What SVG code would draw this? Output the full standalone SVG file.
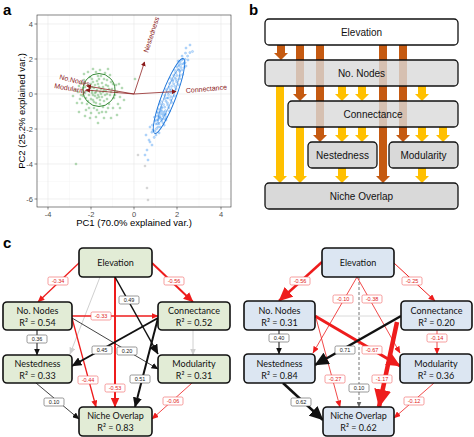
<svg xmlns="http://www.w3.org/2000/svg" width="474" height="437" viewBox="0 0 474 437">
<style>
.pl{font-family:"Liberation Sans",Arial,sans-serif;font-weight:bold;font-size:15px;fill:#000}
.tk{font-family:"Liberation Sans",Arial,sans-serif;font-size:7.5px;fill:#4d4d4d}
.at{font-family:"Liberation Sans",Arial,sans-serif;font-size:9.5px;fill:#000}
.vl{font-family:"Liberation Sans",Arial,sans-serif;font-size:7px;fill:#8b1a1a}
.gmaj{stroke:#e6e6e6;stroke-width:0.6}
.gmin{stroke:#f3f3f3;stroke-width:0.4}
.g{fill:#4caf50;fill-opacity:0.35;stroke:#2e8b2e;stroke-opacity:0.45;stroke-width:0.4}
.b{fill:#4da3ff;fill-opacity:0.35;stroke:#1e7fe0;stroke-opacity:0.5;stroke-width:0.4}
.gy{fill:#aaa;fill-opacity:0.4;stroke:#888;stroke-opacity:0.4;stroke-width:0.4}
.bbox{stroke:#111;stroke-width:1.3}
.bt{font-family:"Liberation Sans",Arial,sans-serif;font-size:10px;fill:#111;text-anchor:middle}
.br{fill:#c55a11}
.ye{fill:#ffc000}
.cg{fill:#e2ecd6;stroke:#111;stroke-width:1.6}
.cb{fill:#dce6f2;stroke:#111;stroke-width:1.6}
.ct{font-family:Lato,"Liberation Sans",sans-serif;font-size:9px;fill:#111;text-anchor:middle}
.er{stroke:#ee1c1c;fill:none}
.ek{stroke:#111;fill:none}
.eg{stroke:#d0d0d0;fill:none}
.lr rect{fill:#fff;stroke:#f06060;stroke-width:0.6}
.lr text{fill:#e02020}
.lk rect{fill:#fff;stroke:#555;stroke-width:0.6}
.lk text{fill:#222}
.lab text{font-family:"Liberation Sans",Arial,sans-serif;font-size:5.5px;text-anchor:middle}
</style>
<defs>
<marker id="pa" markerUnits="userSpaceOnUse" markerWidth="5" markerHeight="5" refX="4" refY="2.5" orient="auto"><path d="M0,0 L4.5,2.5 L0,5 z" fill="#8b1a1a"/></marker>
<marker id="mR1" markerUnits="userSpaceOnUse" markerWidth="7" markerHeight="6" refX="6.5" refY="3" orient="auto"><path d="M0,0 L7,3 L0,6 z" fill="#ee1c1c"/></marker>
<marker id="mR2" markerUnits="userSpaceOnUse" markerWidth="10" markerHeight="9" refX="9.5" refY="4.5" orient="auto"><path d="M0,0 L10,4.5 L0,9 z" fill="#ee1c1c"/></marker>
<marker id="mR3" markerUnits="userSpaceOnUse" markerWidth="14" markerHeight="13" refX="13.5" refY="6.5" orient="auto"><path d="M0,0 L14,6.5 L0,13 z" fill="#ee1c1c"/></marker>
<marker id="mR4" markerUnits="userSpaceOnUse" markerWidth="18" markerHeight="17" refX="17.5" refY="8.5" orient="auto"><path d="M0,0 L18,8.5 L0,17 z" fill="#ee1c1c"/></marker>
<marker id="mK1" markerUnits="userSpaceOnUse" markerWidth="7" markerHeight="6" refX="6.5" refY="3" orient="auto"><path d="M0,0 L7,3 L0,6 z" fill="#111"/></marker>
<marker id="mK2" markerUnits="userSpaceOnUse" markerWidth="10" markerHeight="9" refX="9.5" refY="4.5" orient="auto"><path d="M0,0 L10,4.5 L0,9 z" fill="#111"/></marker>
<marker id="mK3" markerUnits="userSpaceOnUse" markerWidth="14" markerHeight="13" refX="13.5" refY="6.5" orient="auto"><path d="M0,0 L14,6.5 L0,13 z" fill="#111"/></marker>
<marker id="mG" markerUnits="userSpaceOnUse" markerWidth="7" markerHeight="6" refX="6.5" refY="3" orient="auto"><path d="M0,0 L7,3 L0,6 z" fill="#d0d0d0"/></marker>
<marker id="mD" markerUnits="userSpaceOnUse" markerWidth="6" markerHeight="5" refX="5.5" refY="2.5" orient="auto"><path d="M0,0 L6,2.5 L0,5 z" fill="#666"/></marker>
</defs>
<rect width="474" height="437" fill="#fff"/>

<!-- Panel a -->
<g id="panel-a">
<text class="pl" x="3" y="15">a</text>
<g>
<line class="gmin" x1="37" y1="41.5" x2="231" y2="41.5"/><line class="gmin" x1="37" y1="76.5" x2="231" y2="76.5"/><line class="gmin" x1="37" y1="111.5" x2="231" y2="111.5"/><line class="gmin" x1="37" y1="146.5" x2="231" y2="146.5"/><line class="gmin" x1="37" y1="181.5" x2="231" y2="181.5"/>
<line class="gmin" x1="69.5" y1="15" x2="69.5" y2="207"/><line class="gmin" x1="112.5" y1="15" x2="112.5" y2="207"/><line class="gmin" x1="155.5" y1="15" x2="155.5" y2="207"/><line class="gmin" x1="199" y1="15" x2="199" y2="207"/>
<line class="gmaj" x1="37" y1="24" x2="231" y2="24"/><line class="gmaj" x1="37" y1="59" x2="231" y2="59"/><line class="gmaj" x1="37" y1="94" x2="231" y2="94"/><line class="gmaj" x1="37" y1="129" x2="231" y2="129"/><line class="gmaj" x1="37" y1="164" x2="231" y2="164"/><line class="gmaj" x1="37" y1="199" x2="231" y2="199"/>
<line class="gmaj" x1="48" y1="15" x2="48" y2="207"/><line class="gmaj" x1="91" y1="15" x2="91" y2="207"/><line class="gmaj" x1="134" y1="15" x2="134" y2="207"/><line class="gmaj" x1="177" y1="15" x2="177" y2="207"/><line class="gmaj" x1="221" y1="15" x2="221" y2="207"/>
</g>
<g>
<circle class="g" cx="97" cy="90" r="1.1"/><circle class="g" cx="94" cy="88" r="1.1"/><circle class="g" cx="100" cy="92" r="1.1"/><circle class="g" cx="92" cy="93" r="1.1"/><circle class="g" cx="103" cy="87" r="1.1"/><circle class="g" cx="89" cy="90" r="1.1"/><circle class="g" cx="98" cy="84" r="1.1"/><circle class="g" cx="95" cy="96" r="1.1"/><circle class="g" cx="102" cy="97" r="1.1"/><circle class="g" cx="88" cy="85" r="1.1"/><circle class="g" cx="106" cy="91" r="1.1"/><circle class="g" cx="91" cy="99" r="1.1"/><circle class="g" cx="99" cy="79" r="1.1"/><circle class="g" cx="85" cy="93" r="1.1"/><circle class="g" cx="108" cy="86" r="1.1"/><circle class="g" cx="93" cy="82" r="1.1"/><circle class="g" cx="104" cy="101" r="1.1"/><circle class="g" cx="86" cy="98" r="1.1"/><circle class="g" cx="110" cy="95" r="1.1"/><circle class="g" cx="96" cy="103" r="1.1"/><circle class="g" cx="83" cy="88" r="1.1"/><circle class="g" cx="101" cy="76" r="1.1"/><circle class="g" cx="90" cy="77" r="1.1"/><circle class="g" cx="107" cy="80" r="1.1"/><circle class="g" cx="112" cy="89" r="1.1"/><circle class="g" cx="81" cy="95" r="1.1"/><circle class="g" cx="94" cy="108" r="1.1"/><circle class="g" cx="103" cy="107" r="1.1"/><circle class="g" cx="87" cy="104" r="1.1"/><circle class="g" cx="114" cy="98" r="1.1"/><circle class="g" cx="79" cy="86" r="1.1"/><circle class="g" cx="99" cy="113" r="1.1"/><circle class="g" cx="91" cy="113" r="1.1"/><circle class="g" cx="109" cy="104" r="1.1"/><circle class="g" cx="84" cy="80" r="1.1"/><circle class="g" cx="116" cy="85" r="1.1"/><circle class="g" cx="96" cy="72" r="1.1"/><circle class="g" cx="105" cy="73" r="1.1"/><circle class="g" cx="88" cy="72" r="1.1"/><circle class="g" cx="117" cy="92" r="1.1"/><circle class="g" cx="82" cy="103" r="1.1"/><circle class="g" cx="100" cy="100" r="1.1"/><circle class="g" cx="95" cy="93" r="1.1"/><circle class="g" cx="98" cy="95" r="1.1"/><circle class="g" cx="92" cy="87" r="1.1"/><circle class="g" cx="105" cy="95" r="1.1"/><circle class="g" cx="89" cy="95" r="1.1"/><circle class="g" cx="101" cy="89" r="1.1"/><circle class="g" cx="97" cy="98" r="1.1"/><circle class="g" cx="93" cy="100" r="1.1"/><circle class="g" cx="106" cy="85" r="1.1"/><circle class="g" cx="111" cy="82" r="1.1"/><circle class="g" cx="78" cy="92" r="1.1"/><circle class="g" cx="120" cy="97" r="1.1"/><circle class="g" cx="86" cy="110" r="1.1"/><circle class="g" cx="106" cy="112" r="1.1"/><circle class="g" cx="113" cy="108" r="1.1"/><circle class="g" cx="96" cy="117" r="1.1"/><circle class="g" cx="80" cy="99" r="1.1"/><circle class="g" cx="118" cy="104" r="1.1"/><circle class="g" cx="104" cy="118" r="1.1"/><circle class="g" cx="90" cy="118" r="1.1"/><circle class="g" cx="75" cy="90" r="1.1"/><circle class="g" cx="122" cy="88" r="1.1"/><circle class="g" cx="110" cy="75" r="1.1"/><circle class="g" cx="84" cy="74" r="1.1"/><circle class="g" cx="100" cy="70" r="1.1"/><circle class="g" cx="117" cy="115" r="1.1"/><circle class="g" cx="79" cy="112" r="1.1"/><circle class="g" cx="76" cy="164" r="1.1"/><circle class="g" cx="135" cy="79" r="1.1"/><circle class="g" cx="92" cy="91" r="1.1"/><circle class="g" cx="99" cy="87" r="1.1"/><circle class="g" cx="103" cy="92" r="1.1"/>
<circle class="g" cx="95" cy="85" r="1.1"/><circle class="g" cx="101" cy="94" r="1.1"/><circle class="g" cx="90" cy="88" r="1.1"/><circle class="g" cx="104" cy="90" r="1.1"/><circle class="g" cx="96" cy="92" r="1.1"/><circle class="g" cx="99" cy="97" r="1.1"/><circle class="g" cx="93" cy="95" r="1.1"/><circle class="g" cx="107" cy="94" r="1.1"/><circle class="g" cx="87" cy="91" r="1.1"/><circle class="g" cx="102" cy="83" r="1.1"/><circle class="g" cx="91" cy="84" r="1.1"/><circle class="g" cx="97" cy="81" r="1.1"/><circle class="g" cx="109" cy="89" r="1.1"/><circle class="g" cx="85" cy="87" r="1.1"/><circle class="g" cx="100" cy="104" r="1.1"/><circle class="g" cx="94" cy="102" r="1.1"/><circle class="g" cx="88" cy="101" r="1.1"/><circle class="g" cx="107" cy="99" r="1.1"/><circle class="g" cx="111" cy="92" r="1.1"/><circle class="g" cx="83" cy="96" r="1.1"/><circle class="g" cx="98" cy="76" r="1.1"/><circle class="g" cx="104" cy="79" r="1.1"/><circle class="g" cx="92" cy="79" r="1.1"/><circle class="g" cx="113" cy="84" r="1.1"/><circle class="g" cx="115" cy="95" r="1.1"/><circle class="g" cx="108" cy="108" r="1.1"/><circle class="g" cx="89" cy="108" r="1.1"/><circle class="g" cx="97" cy="110" r="1.1"/><circle class="g" cx="102" cy="112" r="1.1"/><circle class="g" cx="81" cy="83" r="1.1"/><circle class="g" cx="119" cy="84" r="1.1"/><circle class="g" cx="120" cy="108" r="1.1"/><circle class="g" cx="77" cy="103" r="1.1"/><circle class="g" cx="85" cy="116" r="1.1"/><circle class="g" cx="111" cy="118" r="1.1"/><circle class="g" cx="93" cy="69" r="1.1"/><circle class="g" cx="108" cy="69" r="1.1"/><circle class="g" cx="124" cy="100" r="1.1"/><circle class="g" cx="73" cy="96" r="1.1"/><circle class="g" cx="98" cy="123" r="1.1"/>
</g>
<g>
<circle class="b" cx="154.2" cy="137.4" r="1.1"/><circle class="b" cx="151.9" cy="132.2" r="1.1"/><circle class="b" cx="159.1" cy="132.9" r="1.1"/><circle class="b" cx="156.5" cy="128.7" r="1.1"/><circle class="b" cx="152.5" cy="125" r="1.1"/><circle class="b" cx="160.3" cy="127" r="1.1"/><circle class="b" cx="157.4" cy="123.6" r="1.1"/><circle class="b" cx="164.2" cy="125.2" r="1.1"/><circle class="b" cx="156.5" cy="120.1" r="1.1"/><circle class="b" cx="161.6" cy="121" r="1.1"/><circle class="b" cx="154.5" cy="117.2" r="1.1"/><circle class="b" cx="160.4" cy="118.4" r="1.1"/><circle class="b" cx="164.5" cy="118.9" r="1.1"/><circle class="b" cx="159.2" cy="115.8" r="1.1"/><circle class="b" cx="166.2" cy="117.4" r="1.1"/><circle class="b" cx="158.1" cy="113.3" r="1.1"/><circle class="b" cx="163.1" cy="114.1" r="1.1"/><circle class="b" cx="165.4" cy="113.9" r="1.1"/><circle class="b" cx="162" cy="111.5" r="1.1"/><circle class="b" cx="158.6" cy="109.1" r="1.1"/><circle class="b" cx="165.5" cy="110.7" r="1.1"/><circle class="b" cx="169.6" cy="111.2" r="1.1"/><circle class="b" cx="161.5" cy="107" r="1.1"/><circle class="b" cx="164.7" cy="107.2" r="1.1"/><circle class="b" cx="168.8" cy="107.7" r="1.1"/><circle class="b" cx="163.5" cy="104.6" r="1.1"/><circle class="b" cx="167.7" cy="105.1" r="1.1"/><circle class="b" cx="160.5" cy="101.4" r="1.1"/><circle class="b" cx="167.4" cy="102.9" r="1.1"/><circle class="b" cx="166" cy="101.2" r="1.1"/><circle class="b" cx="171.9" cy="102.5" r="1.1"/><circle class="b" cx="164.8" cy="98.6" r="1.1"/><circle class="b" cx="170.7" cy="99.9" r="1.1"/><circle class="b" cx="168.3" cy="97.9" r="1.1"/><circle class="b" cx="164.9" cy="95.5" r="1.1"/><circle class="b" cx="170.9" cy="96.7" r="1.1"/><circle class="b" cx="168.5" cy="94.7" r="1.1"/><circle class="b" cx="174.4" cy="95.9" r="1.1"/><circle class="b" cx="168.2" cy="92.5" r="1.1"/><circle class="b" cx="171.3" cy="92.7" r="1.1"/><circle class="b" cx="166.1" cy="89.5" r="1.1"/><circle class="b" cx="173.9" cy="91.5" r="1.1"/><circle class="b" cx="171.5" cy="89.5" r="1.1"/><circle class="b" cx="169.1" cy="87.4" r="1.1"/><circle class="b" cx="175.9" cy="89" r="1.1"/><circle class="b" cx="171.7" cy="86.3" r="1.1"/><circle class="b" cx="174.8" cy="86.4" r="1.1"/><circle class="b" cx="169.6" cy="83.4" r="1.1"/><circle class="b" cx="173.7" cy="83.9" r="1.1"/><circle class="b" cx="178.7" cy="84.7" r="1.1"/><circle class="b" cx="172.5" cy="81.3" r="1.1"/><circle class="b" cx="176.6" cy="81.8" r="1.1"/><circle class="b" cx="170.4" cy="78.3" r="1.1"/><circle class="b" cx="176.3" cy="79.6" r="1.1"/><circle class="b" cx="174.9" cy="77.9" r="1.1"/><circle class="b" cx="179.9" cy="78.7" r="1.1"/><circle class="b" cx="173.7" cy="75.3" r="1.1"/><circle class="b" cx="176.9" cy="75.5" r="1.1"/><circle class="b" cx="180" cy="75.6" r="1.1"/><circle class="b" cx="175.7" cy="72.9" r="1.1"/><circle class="b" cx="182.7" cy="74.5" r="1.1"/><circle class="b" cx="174.6" cy="70.3" r="1.1"/><circle class="b" cx="179.6" cy="71.2" r="1.1"/><circle class="b" cx="178.1" cy="69.5" r="1.1"/><circle class="b" cx="182.2" cy="70" r="1.1"/><circle class="b" cx="176.9" cy="66.9" r="1.1"/><circle class="b" cx="181" cy="67.5" r="1.1"/><circle class="b" cx="184.2" cy="67.5" r="1.1"/><circle class="b" cx="178.9" cy="64.5" r="1.1"/><circle class="b" cx="181.2" cy="64.3" r="1.1"/><circle class="b" cx="183.4" cy="64" r="1.1"/><circle class="b" cx="178.2" cy="61" r="1.1"/><circle class="b" cx="185" cy="62.6" r="1.1"/><circle class="b" cx="181.7" cy="60.1" r="1.1"/><circle class="b" cx="185.2" cy="59.4" r="1.1"/><circle class="b" cx="182.1" cy="56.1" r="1.1"/><circle class="b" cx="187.6" cy="56.1" r="1.1"/><circle class="b" cx="185.5" cy="53.1" r="1.1"/><circle class="b" cx="189.9" cy="52.6" r="1.1"/><circle class="b" cx="192.5" cy="51.5" r="1.1"/>
<circle class="b" cx="160" cy="117" r="1.1"/><circle class="b" cx="162" cy="119" r="1.1"/><circle class="b" cx="158" cy="120" r="1.1"/><circle class="b" cx="163" cy="116" r="1.1"/><circle class="b" cx="157" cy="112" r="1.1"/><circle class="b" cx="161" cy="110" r="1.1"/><circle class="b" cx="165" cy="115" r="1.1"/><circle class="b" cx="159" cy="124" r="1.1"/><circle class="b" cx="163" cy="123" r="1.1"/><circle class="b" cx="155" cy="121" r="1.1"/><circle class="b" cx="166" cy="120" r="1.1"/><circle class="b" cx="160" cy="104" r="1.1"/><circle class="b" cx="153" cy="130" r="1.1"/><circle class="b" cx="150" cy="127" r="1.1"/><circle class="b" cx="156" cy="135" r="1.1"/><circle class="b" cx="149" cy="140" r="1.1"/><circle class="b" cx="152" cy="145" r="1.1"/><circle class="b" cx="147" cy="150" r="1.1"/><circle class="b" cx="145" cy="155" r="1.1"/><circle class="b" cx="148" cy="160" r="1.1"/><circle class="b" cx="150" cy="142" r="1.1"/><circle class="b" cx="146" cy="135" r="1.1"/><circle class="b" cx="186" cy="48" r="1.1"/><circle class="b" cx="190" cy="45" r="1.1"/>
<circle class="b" cx="159" cy="118" r="1.1"/><circle class="b" cx="161" cy="114" r="1.1"/><circle class="b" cx="157" cy="116" r="1.1"/><circle class="b" cx="162" cy="108" r="1.1"/><circle class="b" cx="156" cy="124" r="1.1"/><circle class="b" cx="160" cy="112" r="1.1"/><circle class="b" cx="164" cy="112" r="1.1"/><circle class="b" cx="158" cy="127" r="1.1"/><circle class="b" cx="155" cy="131" r="1.1"/><circle class="b" cx="167" cy="98" r="1.1"/><circle class="b" cx="170" cy="90" r="1.1"/><circle class="b" cx="173" cy="80" r="1.1"/><circle class="b" cx="179" cy="66" r="1.1"/><circle class="b" cx="183" cy="59" r="1.1"/><circle class="b" cx="184" cy="63" r="1.1"/><circle class="b" cx="180" cy="62" r="1.1"/><circle class="b" cx="188" cy="60" r="1.1"/><circle class="b" cx="186" cy="66" r="1.1"/>
<circle class="gy" cx="138" cy="155" r="1.1"/><circle class="gy" cx="147" cy="188" r="1.1"/><circle class="gy" cx="148" cy="200" r="1.1"/><circle class="gy" cx="145" cy="166" r="1.1"/>
</g>
<ellipse cx="99" cy="90" rx="16" ry="16.5" fill="none" stroke="#1e7a1e" stroke-width="0.9"/>
<ellipse cx="169" cy="96" rx="40" ry="7" transform="rotate(-69 169 96)" fill="none" stroke="#1a73d9" stroke-width="0.9"/>
<ellipse cx="169" cy="96" rx="29" ry="4" transform="rotate(-69 169 96)" fill="none" stroke="#1a73d9" stroke-width="0.5"/>
<g stroke="#8b1a1a" stroke-width="0.9" fill="none" stroke-opacity="0.85">
<line x1="134" y1="94" x2="144.5" y2="62" marker-end="url(#pa)"/>
<line x1="134" y1="94" x2="176" y2="91.5" marker-end="url(#pa)"/>
<line x1="134" y1="94" x2="87" y2="86" marker-end="url(#pa)"/>
<line x1="134" y1="94" x2="86" y2="90" marker-end="url(#pa)"/>
</g>
<text class="vl" transform="translate(148,53) rotate(-72)">Nestedness</text>
<text class="vl" transform="translate(186,93) rotate(-5)">Connectance</text>
<text class="vl" font-size="6.5" transform="translate(59,79) rotate(14)">No.Nodes</text>
<text class="vl" font-size="6.5" transform="translate(54,88) rotate(10)">Modularity</text>
<rect x="37" y="15" width="194" height="192" fill="none" stroke="#333" stroke-width="0.6"/>
<g stroke="#333" stroke-width="0.6">
<line x1="34.5" y1="24" x2="37" y2="24"/><line x1="34.5" y1="59" x2="37" y2="59"/><line x1="34.5" y1="94" x2="37" y2="94"/><line x1="34.5" y1="129" x2="37" y2="129"/><line x1="34.5" y1="164" x2="37" y2="164"/><line x1="34.5" y1="199" x2="37" y2="199"/>
<line x1="48" y1="207" x2="48" y2="209.5"/><line x1="91" y1="207" x2="91" y2="209.5"/><line x1="134" y1="207" x2="134" y2="209.5"/><line x1="177" y1="207" x2="177" y2="209.5"/><line x1="221" y1="207" x2="221" y2="209.5"/>
</g>
<g class="tk" text-anchor="end">
<text x="33" y="26.7">4</text><text x="33" y="61.7">2</text><text x="33" y="96.7">0</text><text x="33" y="131.7">-2</text><text x="33" y="166.7">-4</text><text x="33" y="201.7">-6</text>
</g>
<g class="tk" text-anchor="middle">
<text x="48" y="216.5">-4</text><text x="91" y="216.5">-2</text><text x="134" y="216.5">0</text><text x="177" y="216.5">2</text><text x="221" y="216.5">4</text>
</g>
<text class="at" x="134" y="226" text-anchor="middle">PC1 (70.0% explained var.)</text>
<text class="at" transform="translate(25,111) rotate(-90)" text-anchor="middle">PC2 (25.2% explained var.)</text>
</g>

<!-- Panel b -->
<g id="panel-b">
<text class="pl" x="249" y="15">b</text>
<g id="b-arrows">
<polygon class="br" points="277,45 285,45 285,53 288,53 281,60 274,53 277,53"/>
<polygon class="br" points="296,45 304,45 304,94 307,94 300,101 293,94 296,94"/>
<polygon class="br" points="316,45 324,45 324,135 327,135 320,142 313,135 316,135"/>
<polygon class="br" points="379,45 387,45 387,176 390,176 383,183 376,176 379,176"/>
<polygon class="br" points="399,45 407,45 407,135 410,135 403,142 396,135 399,135"/>
<polygon class="ye" points="276,86 284,86 284,176 287,176 280,183 273,176 276,176"/>
<polygon class="ye" points="296,127 304,127 304,176 307,176 300,183 293,176 296,176"/>
<polygon class="ye" points="338,86 346,86 346,94 349,94 342,101 335,94 338,94"/>
<polygon class="ye" points="358,86 366,86 366,94 369,94 362,101 355,94 358,94"/>
<polygon class="ye" points="418,86 426,86 426,94 429,94 422,101 415,94 418,94"/>
<polygon class="ye" points="338,127 346,127 346,135 349,135 342,142 335,135 338,135"/>
<polygon class="ye" points="358,127 366,127 366,135 369,135 362,142 355,135 358,135"/>
<polygon class="ye" points="418,127 426,127 426,135 429,135 422,142 415,135 418,135"/>
<polygon class="ye" points="439,127 447,127 447,135 450,135 443,142 436,135 439,135"/>
<polygon class="ye" points="338,168 346,168 346,176 349,176 342,183 335,176 338,176"/>
<polygon class="ye" points="418,168 426,168 426,176 429,176 422,183 415,176 418,176"/>
</g>
<g id="b-elevation"><rect class="bbox" x="265" y="19" width="193" height="26" rx="4" fill="#fff"/><text class="bt" x="361.5" y="35.5">Elevation</text></g>
<g id="b-nodes"><rect class="bbox" x="265" y="60" width="193" height="26" rx="4" fill="#d9d9d9" fill-opacity="0.8"/><text class="bt" x="361.5" y="76.5">No. Nodes</text></g>
<g id="b-connectance"><rect class="bbox" x="288" y="101" width="170" height="26" rx="4" fill="#d9d9d9" fill-opacity="0.8"/><text class="bt" x="373" y="117.5">Connectance</text></g>
<g id="b-nestedness"><rect class="bbox" x="308" y="142" width="69" height="26" rx="4" fill="#d9d9d9"/><text class="bt" x="342.5" y="158.5">Nestedness</text></g>
<g id="b-modularity"><rect class="bbox" x="389" y="142" width="69" height="26" rx="4" fill="#d9d9d9"/><text class="bt" x="423.5" y="158.5">Modularity</text></g>
<g id="b-niche"><rect class="bbox" x="265" y="183" width="193" height="26" rx="4" fill="#d9d9d9"/><text class="bt" x="361.5" y="199.5">Niche Overlap</text></g>
</g>

<!-- Panel c -->
<text class="pl" x="3" y="248">c</text>
<g id="connectors">
<line class="eg" x1="100" y1="277" x2="70" y2="354" stroke-width="1" marker-end="url(#mG)"/>
<line class="eg" x1="193" y1="330" x2="193" y2="355" stroke-width="1" marker-end="url(#mG)"/>
<line class="er" x1="80" y1="262" x2="38" y2="302" stroke-width="1.3" marker-end="url(#mR1)"/>
<line class="er" x1="152" y1="263" x2="193" y2="302" stroke-width="2" marker-end="url(#mR2)"/>
<line class="er" x1="72" y1="316" x2="158" y2="316" stroke-width="1.3" marker-end="url(#mR1)"/>
<line class="er" x1="115" y1="277" x2="115" y2="407" stroke-width="2" marker-end="url(#mR2)"/>
<line class="er" x1="72" y1="318" x2="96" y2="407" stroke-width="1.3" marker-end="url(#mR1)"/>
<line class="ek" x1="115" y1="277" x2="158" y2="354" stroke-width="1.5" marker-end="url(#mK2)"/>
<line class="ek" x1="158" y1="318" x2="72" y2="366" stroke-width="2" marker-end="url(#mK2)"/>
<line class="ek" x1="72" y1="318" x2="158" y2="369" stroke-width="0.8" marker-end="url(#mK1)"/>
<line class="ek" x1="158" y1="318" x2="135" y2="407" stroke-width="2" marker-end="url(#mK2)"/>
<line class="ek" x1="37" y1="330" x2="37" y2="355" stroke-width="1" marker-end="url(#mK1)"/>
<line class="ek" x1="36" y1="383" x2="79" y2="419" stroke-width="0.8" marker-end="url(#mK1)"/>
<line class="er" x1="192" y1="383" x2="152" y2="419" stroke-width="0.8" marker-end="url(#mR1)"/>
<line class="eg" x1="315" y1="316" x2="401" y2="316" stroke-width="0.8" stroke="#e0e0e0"/>
<line x1="359" y1="277" x2="359" y2="407" stroke="#666" stroke-width="0.9" stroke-dasharray="3,2" marker-end="url(#mD)"/>
<line class="er" x1="322" y1="262" x2="279" y2="301" stroke-width="2.5" marker-end="url(#mR3)"/>
<line class="er" x1="394" y1="263" x2="435" y2="301" stroke-width="1" marker-end="url(#mR1)"/>
<line class="er" x1="357" y1="277" x2="313" y2="353" stroke-width="0.8" marker-end="url(#mR1)"/>
<line class="er" x1="357" y1="277" x2="400" y2="353" stroke-width="0.8" marker-end="url(#mR1)"/>
<line class="er" x1="315" y1="316" x2="400" y2="366" stroke-width="3" marker-end="url(#mR3)"/>
<line class="er" x1="316" y1="318" x2="340" y2="407" stroke-width="0.8" marker-end="url(#mR1)"/>
<line class="ek" x1="401" y1="316" x2="315" y2="365" stroke-width="2.5" marker-end="url(#mK3)"/>
<line class="er" x1="397" y1="322" x2="379" y2="407" stroke-width="4.5" marker-end="url(#mR4)"/>
<line class="er" x1="437" y1="330" x2="437" y2="354" stroke-width="0.8" marker-end="url(#mR1)"/>
<line class="ek" x1="279" y1="330" x2="279" y2="354" stroke-width="1" marker-end="url(#mK1)"/>
<line class="ek" x1="283" y1="383" x2="323" y2="420" stroke-width="2.5" marker-end="url(#mK3)"/>
<line class="er" x1="434" y1="383" x2="394" y2="418" stroke-width="0.8" marker-end="url(#mR1)"/>
<g class="lab">
<g class="lr"><rect x="48" y="277" width="20" height="8" rx="1.5"/><text x="58" y="283">-0.34</text></g>
<g class="lr"><rect x="164" y="277" width="20" height="8" rx="1.5"/><text x="174" y="283">-0.56</text></g>
<g class="lr"><rect x="91" y="312" width="20" height="8" rx="1.5"/><text x="101" y="318">-0.33</text></g>
<g class="lk"><rect x="119" y="296" width="20" height="8" rx="1.5"/><text x="129" y="302">0.49</text></g>
<g class="lk"><rect x="27" y="335" width="20" height="8" rx="1.5"/><text x="37" y="341">0.36</text></g>
<g class="lk"><rect x="92" y="346" width="20" height="8" rx="1.5"/><text x="102" y="352">0.45</text></g>
<g class="lk"><rect x="117" y="347" width="20" height="8" rx="1.5"/><text x="127" y="353">0.20</text></g>
<g class="lr"><rect x="78" y="376" width="20" height="8" rx="1.5"/><text x="88" y="382">-0.44</text></g>
<g class="lr"><rect x="105" y="384" width="20" height="8" rx="1.5"/><text x="115" y="390">-0.53</text></g>
<g class="lk"><rect x="130" y="375" width="20" height="8" rx="1.5"/><text x="140" y="381">0.51</text></g>
<g class="lk"><rect x="44" y="398" width="20" height="8" rx="1.5"/><text x="54" y="404">0.10</text></g>
<g class="lr"><rect x="163" y="397" width="20" height="8" rx="1.5"/><text x="173" y="403">-0.06</text></g>
<g class="lr"><rect x="290" y="277" width="20" height="8" rx="1.5"/><text x="300" y="283">-0.56</text></g>
<g class="lr"><rect x="402" y="277" width="20" height="8" rx="1.5"/><text x="412" y="283">-0.25</text></g>
<g class="lr"><rect x="333" y="295" width="20" height="8" rx="1.5"/><text x="343" y="301">-0.10</text></g>
<g class="lr"><rect x="362" y="295" width="20" height="8" rx="1.5"/><text x="372" y="301">-0.38</text></g>
<g class="lk"><rect x="269" y="334" width="20" height="8" rx="1.5"/><text x="279" y="340">0.40</text></g>
<g class="lr"><rect x="427" y="334" width="20" height="8" rx="1.5"/><text x="437" y="340">-0.14</text></g>
<g class="lk"><rect x="335" y="346" width="20" height="8" rx="1.5"/><text x="345" y="352">0.71</text></g>
<g class="lr"><rect x="362" y="346" width="20" height="8" rx="1.5"/><text x="372" y="352">-0.67</text></g>
<g class="lr"><rect x="325" y="375" width="20" height="8" rx="1.5"/><text x="335" y="381">-0.27</text></g>
<g class="lr"><rect x="372" y="375" width="20" height="8" rx="1.5"/><text x="382" y="381">-1.17</text></g>
<g class="lk"><rect x="349" y="384" width="20" height="8" rx="1.5"/><text x="359" y="390">0.10</text></g>
<g class="lk"><rect x="291" y="398" width="20" height="8" rx="1.5"/><text x="301" y="404">0.62</text></g>
<g class="lr"><rect x="404" y="397" width="20" height="8" rx="1.5"/><text x="414" y="403">-0.12</text></g>
</g>
</g>
<g id="L-elevation"><rect class="cg" x="79" y="248" width="73" height="29" rx="4"/><text class="ct" x="115.5" y="266">Elevation</text></g>
<g id="L-nodes"><rect class="cg" x="3" y="302" width="69" height="28" rx="4"/><text class="ct" x="37.5" y="314">No. Nodes</text><text class="ct" x="37.5" y="326">R² = 0.54</text></g>
<g id="L-connectance"><rect class="cg" x="158" y="302" width="72" height="28" rx="4"/><text class="ct" x="194" y="314">Connectance</text><text class="ct" x="194" y="326">R² = 0.52</text></g>
<g id="L-nestedness"><rect class="cg" x="3" y="355" width="69" height="28" rx="4"/><text class="ct" x="37.5" y="367">Nestedness</text><text class="ct" x="37.5" y="379">R² = 0.33</text></g>
<g id="L-modularity"><rect class="cg" x="158" y="355" width="72" height="28" rx="4"/><text class="ct" x="194" y="367">Modularity</text><text class="ct" x="194" y="379">R² = 0.31</text></g>
<g id="L-niche"><rect class="cg" x="79" y="407" width="73" height="29" rx="4"/><text class="ct" x="115.5" y="419">Niche Overlap</text><text class="ct" x="115.5" y="431">R² = 0.83</text></g>
<g id="R-elevation"><rect class="cb" x="322" y="248" width="72" height="29" rx="4"/><text class="ct" x="358" y="266">Elevation</text></g>
<g id="R-nodes"><rect class="cb" x="244" y="301" width="71" height="29" rx="4"/><text class="ct" x="279.5" y="313.5">No. Nodes</text><text class="ct" x="279.5" y="325.5">R² = 0.31</text></g>
<g id="R-connectance"><rect class="cb" x="401" y="301" width="71" height="29" rx="4"/><text class="ct" x="436.5" y="313.5">Connectance</text><text class="ct" x="436.5" y="325.5">R² = 0.20</text></g>
<g id="R-nestedness"><rect class="cb" x="244" y="354" width="71" height="29" rx="4"/><text class="ct" x="279.5" y="366.5">Nestedness</text><text class="ct" x="279.5" y="378.5">R² = 0.84</text></g>
<g id="R-modularity"><rect class="cb" x="400" y="354" width="72" height="29" rx="4"/><text class="ct" x="436" y="366.5">Modularity</text><text class="ct" x="436" y="378.5">R² = 0.36</text></g>
<g id="R-niche"><rect class="cb" x="323" y="407" width="71" height="29" rx="4"/><text class="ct" x="358.5" y="419">Niche Overlap</text><text class="ct" x="358.5" y="431">R² = 0.62</text></g>
</svg>
